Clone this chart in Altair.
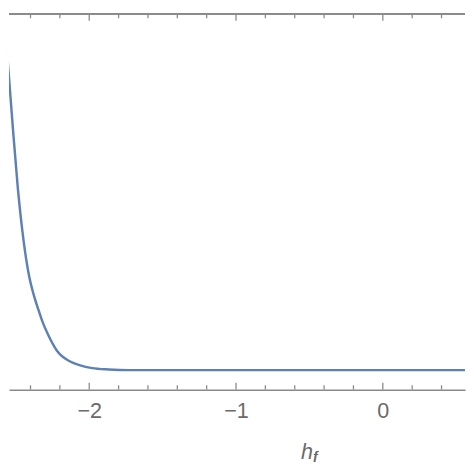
import altair as alt
import pandas as pd

# curve (x = h_f, y in arbitrary units)
hf = [-2.573, -2.547, -2.520, -2.487, -2.447, -2.413, -2.380, -2.347, -2.320,
      -2.280, -2.220, -2.133, -2.067, -1.980, -1.867, -1.733, -1.2, -0.5, 0.0, 0.6]
val = [0.956, 0.827, 0.690, 0.535, 0.393, 0.307, 0.253, 0.212, 0.181,
       0.145, 0.103, 0.075, 0.065, 0.057, 0.0535, 0.0517, 0.0517, 0.0517, 0.0517, 0.0517]

major_ticks = [-2, -1, 0]
minor_ticks = [-2.4, -2.2, -1.8, -1.6, -1.4, -1.2, -0.8, -0.6, -0.4, -0.2, 0.2, 0.4]

W, H = 466, 384
XMIN, XMAX = -2.5467, 0.56
YMAX = 0.9922

curve = pd.DataFrame({"hf": hf, "v": val})
majors = pd.DataFrame({"t": major_ticks})
minors = pd.DataFrame({"t": minor_ticks})

xs = alt.Scale(domain=[XMIN, XMAX], nice=False, zero=False)
ys = alt.Scale(domain=[0, YMAX], nice=False, zero=False)

AX = "#8a8a8a"
TXT = "#6a6a6a"

line = alt.Chart(curve).mark_line(color="#5E81B5", strokeWidth=2.5, clip=True,
                                  interpolate="monotone").encode(
    x=alt.X("hf:Q", scale=xs, axis=alt.Axis(
        values=major_ticks, format="d", ticks=False, tickSize=0, grid=False,
        domainColor=AX, domainWidth=1.5,
        labelFont="Liberation Sans", labelFontSize=22, labelColor=TXT,
        labelPadding=28, labelBaseline="alphabetic", labelFlush=False,
        title="h", titleFont="Liberation Sans", titleFontSize=22,
        titleFontStyle="italic", titleFontWeight="normal", titleColor=TXT,
        titleX=304, titleY=70, titleBaseline="alphabetic", titleAlign="center")),
    y=alt.Y("v:Q", scale=ys, axis=None),
)

def tick_layer(df, y0, y1):
    return alt.Chart(df).mark_rule(color=AX, strokeWidth=1.3, clip=True).encode(
        x=alt.X("t:Q", scale=xs),
        y=alt.value(y0), y2=alt.value(y1))

top_line = alt.Chart(majors).mark_rule(color=AX, strokeWidth=1.5).encode(
    x=alt.value(0), x2=alt.value(W), y=alt.value(0))

sub_f = alt.Chart(majors).mark_text(
    text="f", font="Liberation Sans", fontSize=15, fontStyle="italic",
    color=TXT, align="center", baseline="alphabetic").encode(
    x=alt.value(313), y=alt.value(458))

chart = alt.layer(
    line,
    tick_layer(majors, H, H - 7),
    tick_layer(minors, H, H - 4.5),
    tick_layer(majors, 0, 7),
    tick_layer(minors, 0, 4.5),
    top_line,
    sub_f,
).properties(width=W, height=H, padding=0).configure_view(stroke=None)

chart.save("out.html", embed_options={"renderer": "svg", "actions": False})
